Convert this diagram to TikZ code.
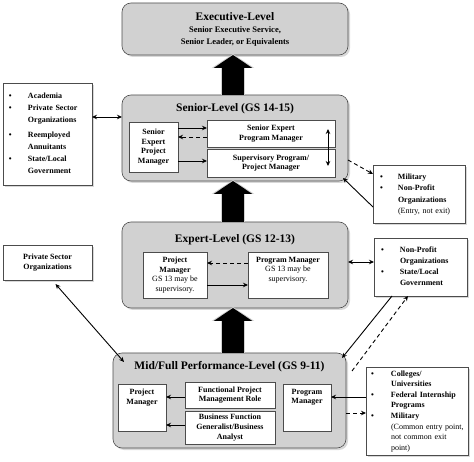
\documentclass[tikz,border=0pt]{standalone}
\usepackage{fontspec}
\setmainfont{Liberation Serif}
\usetikzlibrary{arrows.meta,shadows,calc}
\newcommand\bl{\textbullet}
\begin{document}
\begin{tikzpicture}[x=1pt,y=-1pt,
  level/.style={draw=gray!60!black, line width=0.6pt, fill=black!18, rounded corners=9pt,
    drop shadow={shadow xshift=2pt, shadow yshift=-2pt, fill=gray!60}, inner sep=0pt, outer sep=0pt},
  ttl/.style={font=\bfseries\fontsize{11.5}{13}\selectfont, inner sep=2pt},
  box/.style={draw=gray!60!black, line width=0.6pt, fill=white, inner sep=1pt, outer sep=0pt,
    align=center, font=\bfseries\fontsize{8}{9.7}\selectfont},
  side/.style={box, drop shadow={shadow xshift=2pt, shadow yshift=-2pt, fill=gray!60}, align=left},
  conn/.style={line width=0.9pt, -{Stealth[length=5pt,width=4.5pt]}},
  dconn/.style={conn, dash pattern=on 4pt off 3pt},
  dbl/.style={line width=0.9pt, {Stealth[length=5pt,width=4.5pt]}-{Stealth[length=5pt,width=4.5pt]}},
  big/.style={line width=22pt, -{Triangle[length=13pt,width=38pt]},
    preaction={draw=gray!35, line width=24pt, shorten >=-1pt, -{Triangle[length=14pt,width=42pt]}}},
]
\useasboundingbox (0,0) rectangle (474,462);

% ---------- level boxes ----------
\node[level, minimum width=226pt, minimum height=52pt, align=center,
  font=\bfseries\fontsize{8.5}{12}\selectfont] (exec) at (235,29)
  {{\fontsize{11.5}{13}\selectfont Executive-Level}\\ Senior Executive Service,\\ Senior Leader, or Equivalents};

\node[level, minimum width=226pt, minimum height=86pt,
  label={[ttl, anchor=north, yshift=-6pt]north:Senior-Level (GS 14-15)}] (senior) at (235,138) {};

\node[level, minimum width=226pt, minimum height=86pt,
  label={[ttl, anchor=north, yshift=-10pt]north:Expert-Level (GS 12-13)}] (expert) at (235,265) {};

\node[level, minimum width=233pt, minimum height=95pt,
  label={[ttl, anchor=north, yshift=-6pt]north:Mid/Full Performance-Level (GS 9-11)}] (mid) at (229.5,400.5) {};

% ---------- senior inner ----------
\node[box, minimum width=49pt, minimum height=50pt] (sepm) at (153.5,147) {Senior\\Expert\\Project\\Manager};
\node[box, minimum width=128pt, minimum height=27pt] (sexp) at (271,133.5) {Senior Expert\\Program Manager};
\node[box, minimum width=128pt, minimum height=28pt] (sup) at (271,163) {Supervisory Program/\\Project Manager};

% ---------- expert inner ----------
\node[box, minimum width=64pt, minimum height=46pt] (pm2) at (175,275)
  {Project\\Manager\\{\mdseries GS 13 may be}\\{\mdseries supervisory.}};
\node[box, minimum width=80pt, minimum height=46pt] (prog2) at (288,275)
  {Program Manager\\{\mdseries GS 13 may be}\\{\mdseries supervisory.}\\[2pt]\mbox{}};

% ---------- mid inner ----------
\node[box, minimum width=48pt, minimum height=47pt,
  label={[box, draw=none, fill=none, anchor=north, yshift=-4pt]north:Project\\Manager}] (pm3) at (142,407.5) {};
\node[box, minimum width=90pt, minimum height=26pt] (fpmr) at (230,395) {Functional Project\\Management Role};
\node[box, minimum width=90pt, minimum height=33pt] (bf) at (230,427.5) {Business Function\\Generalist/Business\\Analyst};
\node[box, minimum width=48pt, minimum height=47pt,
  label={[box, draw=none, fill=none, anchor=north, yshift=-4pt]north:Program\\Manager}] (prog3) at (307,407.5) {};

% ---------- side boxes ----------
\node[side, minimum width=89pt, minimum height=102pt, text width=77pt, inner xsep=6pt] (left1) at (47.5,134)
  {\fontsize{8}{12}\selectfont
   \begin{tabular}{@{}p{19pt}@{}l@{}}
   \bl & Academia\\
   \bl & Private Sector\\
       & Organizations\\[3pt]
   \bl & Reemployed\\
       & Annuitants\\
   \bl & State/Local\\
       & Government
   \end{tabular}};

\node[side, minimum width=89pt, minimum height=35pt] (pso) at (47.5,262.5) {\parbox{80pt}{\centering Private Sector\\Organizations}};

\node[side, minimum width=92pt, minimum height=58pt, text width=78pt, inner xsep=7pt] (right1) at (419,194)
  {\fontsize{8}{11.5}\selectfont
   \begin{tabular}{@{}p{18pt}@{}l@{}}
   \bl & Military\\
   \bl & Non-Profit\\
       & Organizations\\
       & {\mdseries (Entry, not exit)}
   \end{tabular}};

\node[side, minimum width=93pt, minimum height=58pt, text width=79pt, inner xsep=7pt] (right2) at (420.5,267)
  {\fontsize{8}{10.8}\selectfont
   \begin{tabular}{@{}p{19pt}@{}l@{}}
   \bl & Non-Profit\\
       & Organizations\\
   \bl & State/Local\\
       & Government
   \end{tabular}};

\node[side, minimum width=102pt, minimum height=88pt, text width=92pt, inner xsep=5pt] (right3) at (417,411)
  {\fontsize{8}{10.6}\selectfont
   \begin{tabular}{@{}p{20pt}@{}l@{}}
   \bl & Colleges/\\
       & Universities\\
   \bl & Federal Internship\\
       & Programs\\
   \bl & Military\\
       & {\mdseries (Common entry point,}\\
       & {\mdseries not common exit}\\
       & {\mdseries point)}
   \end{tabular}};

% ---------- big arrows ----------
\coordinate (ax) at (233,0);
\draw[big] (senior.north -| ax) -- (exec.south -| ax);
\draw[big] (expert.north -| ax) -- (senior.south -| ax);
\draw[big] (mid.north -| ax) -- (expert.south -| ax);

% ---------- connectors ----------
\draw[dbl] (left1.east |- 0,117) -- (senior.west |- 0,117);
\draw[conn] (sepm.east |- 0,128) -- (sexp.west |- 0,128);
\draw[dconn] (sexp.west |- 0,137) -- (sepm.east |- 0,137);
\draw[conn] (sepm.east |- 0,161) -- (sup.west |- 0,161);
\draw[dbl] ($(sexp.north -| 328,0)+(0,9)$) -- ($(sup.south -| 328,0)+(0,-11)$);
\draw[dconn] (senior.east |- 0,160) -- (right1.west |- 0,174);
\draw[conn] (right1.west |- 0,207) -- ($(senior.south east)+(-5,-3)$);

\draw[dconn] (prog2.west |- 0,263) -- (pm2.east |- 0,263);
\draw[conn] (pm2.east |- 0,285) -- (prog2.west |- 0,285);
\draw[dbl] (expert.east |- 0,262) -- (right2.west |- 0,262);

\draw[conn] (right2.south -| 392,0) -- ($(mid.north east)+(-4,5)$);
\draw[dconn] ($(mid.north east)+(6,18)$) -- (right2.south -| 408,0);
\draw[dbl] ($(pso.south)+(8,4)$) -- ($(mid.north west)+(11,9)$);

\draw[conn] (fpmr.west |- 0,397) -- (pm3.east |- 0,397);
\draw[conn] (bf.west |- 0,425) -- (pm3.east |- 0,425);
\draw[conn] (right3.west |- 0,397) -- (prog3.east |- 0,397);
\draw[dconn] (mid.east |- 0,413) -- (right3.west |- 0,413);
\end{tikzpicture}
\end{document}
